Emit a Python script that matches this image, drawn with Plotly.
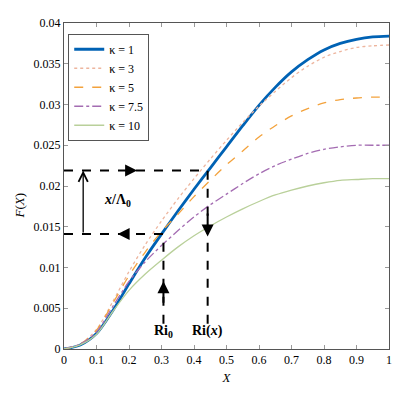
import plotly.graph_objects as go

# sample points along X
x_vals = [0.0, 0.05, 0.1, 0.15, 0.2, 0.25, 0.3, 0.35, 0.4, 0.45, 0.5,
          0.55, 0.6, 0.65, 0.7, 0.75, 0.8, 0.85, 0.9, 0.95, 1.0]

f_k1 = [0, 0.0005, 0.0019, 0.0047, 0.0080, 0.0112, 0.0141, 0.0169, 0.0196, 0.0222, 0.0248,
        0.0274, 0.0299, 0.0321, 0.0340, 0.0355, 0.0367, 0.0375, 0.0380, 0.0383, 0.0384]
f_k3 = [0, 0.0006, 0.0024, 0.0058, 0.0095, 0.0128, 0.0157, 0.0184, 0.0209, 0.0233, 0.0256,
        0.0278, 0.0298, 0.0316, 0.0333, 0.0347, 0.0358, 0.0365, 0.0370, 0.0372, 0.0373]
f_k5 = [0, 0.0006, 0.0023, 0.0056, 0.0090, 0.0119, 0.0144, 0.0165, 0.0187, 0.0207, 0.0226,
        0.0243, 0.0260, 0.0274, 0.0286, 0.0295, 0.0302, 0.0306, 0.0308, 0.0309, 0.0309]
f_k75 = [0, 0.0006, 0.0021, 0.0052, 0.0083, 0.0107, 0.0127, 0.0145, 0.0162, 0.0177, 0.0190,
         0.0203, 0.0215, 0.0225, 0.0233, 0.0240, 0.0245, 0.0248, 0.0250, 0.0250, 0.0250]
f_k10 = [0, 0.0005, 0.0018, 0.0046, 0.0072, 0.0092, 0.0109, 0.0125, 0.0139, 0.0151, 0.0162,
         0.0172, 0.0181, 0.0189, 0.0195, 0.0200, 0.0204, 0.0207, 0.0208, 0.0209, 0.0209]

names = ["κ = 1", "κ = 3", "κ = 5", "κ = 7.5", "κ = 10"]

# construction lines
ri0 = 0.306
ri_x = 0.442
f_low = 0.0141
f_high = 0.0219
x_span = 0.059
y_bottom = 0.0027

x_ticks = [0, 0.1, 0.2, 0.3, 0.4, 0.5, 0.6, 0.7, 0.8, 0.9, 1]
y_ticks = [0, 0.005, 0.01, 0.015, 0.02, 0.025, 0.03, 0.035, 0.04]

styles = [
    dict(color="#0062B4", width=2.8, dash="solid"),
    dict(color="#EDB59E", width=1.3, dash="dot"),
    dict(color="#F3A23C", width=1.3, dash="dash"),
    dict(color="#A46CB2", width=1.3, dash="dashdot"),
    dict(color="#B9D09A", width=1.3, dash="solid"),
]

fig = go.Figure()

for ys, name, st in zip([f_k1, f_k3, f_k5, f_k75, f_k10], names, styles):
    fig.add_trace(go.Scatter(x=x_vals, y=ys, mode="lines", name=name,
                             line=dict(shape="spline", smoothing=0.8, **st)))

dash_line = dict(color="black", width=2, dash="dash")
fig.add_trace(go.Scatter(x=[0, ri_x, ri_x], y=[f_high, f_high, y_bottom],
                         mode="lines", line=dash_line, showlegend=False))
fig.add_trace(go.Scatter(x=[0, ri0, ri0], y=[f_low, f_low, y_bottom],
                         mode="lines", line=dash_line, showlegend=False))

serif = "Liberation Serif, DejaVu Serif, serif"

arrows = [
    # (head x, head y, tail x, tail y)
    (0.225, f_high, 0.19, f_high),
    (0.165, f_low, 0.2, f_low),
    (ri0, 0.0083, ri0, 0.0055),
    (ri_x, 0.0138, ri_x, 0.0168),
]
for hx, hy, tx, ty in arrows:
    fig.add_annotation(x=hx, y=hy, ax=tx, ay=ty, xref="x", yref="y",
                       axref="x", ayref="y", text="", showarrow=True,
                       arrowhead=2, arrowsize=1.2, arrowwidth=2, arrowcolor="black")

fig.add_annotation(x=x_span, y=f_high, ax=x_span, ay=f_low, xref="x", yref="y",
                   axref="x", ayref="y", text="", showarrow=True,
                   arrowhead=5, arrowsize=1.4, arrowwidth=1.3, arrowcolor="black",
                   standoff=0)

labels = [
    (0.165, 0.0182, "<b><i>x</i>/Λ<sub>0</sub></b>"),
    (ri0, 0.0022, "<b>Ri<sub>0</sub></b>"),
    (ri_x, 0.0022, "<b>Ri(<i>x</i>)</b>"),
]
for lx, ly, txt in labels:
    fig.add_annotation(x=lx, y=ly, xref="x", yref="y", text=txt, showarrow=False,
                       font=dict(family=serif, size=14, color="black"))

# y title as a rotated annotation so it does not push the margin
fig.add_annotation(x=-0.165, y=0.44, xref="paper", yref="paper",
                   text="<i>F</i>(<i>X</i>)", textangle=-90, showarrow=False,
                   font=dict(family=serif, size=13, color="black"))

axis_common = dict(showline=True, linecolor="#555", linewidth=1, mirror="ticks",
                   ticks="inside", ticklen=4, tickcolor="#999", showgrid=False,
                   zeroline=False, tickfont=dict(family=serif, size=12, color="black"))

fig.update_xaxes(range=[0, 1], tickvals=x_ticks,
                 title=dict(text="<i>X</i>", font=dict(family=serif, size=13), standoff=6),
                 **axis_common)
fig.update_yaxes(range=[0, 0.04], tickvals=y_ticks, **axis_common)

# page body adds an 8px offset, so the figure is a bit smaller than the window
fig.update_layout(
    width=392, height=392,
    margin=dict(l=56, r=8, t=13, b=51),
    paper_bgcolor="white", plot_bgcolor="white",
    font=dict(family=serif, size=12, color="black"),
    legend=dict(x=0.013, y=0.967, xanchor="left", yanchor="top",
                bgcolor="white", bordercolor="#555", borderwidth=1,
                font=dict(family=serif, size=12), itemwidth=30,
                tracegroupgap=0),
)

fig.write_html("out.html")
